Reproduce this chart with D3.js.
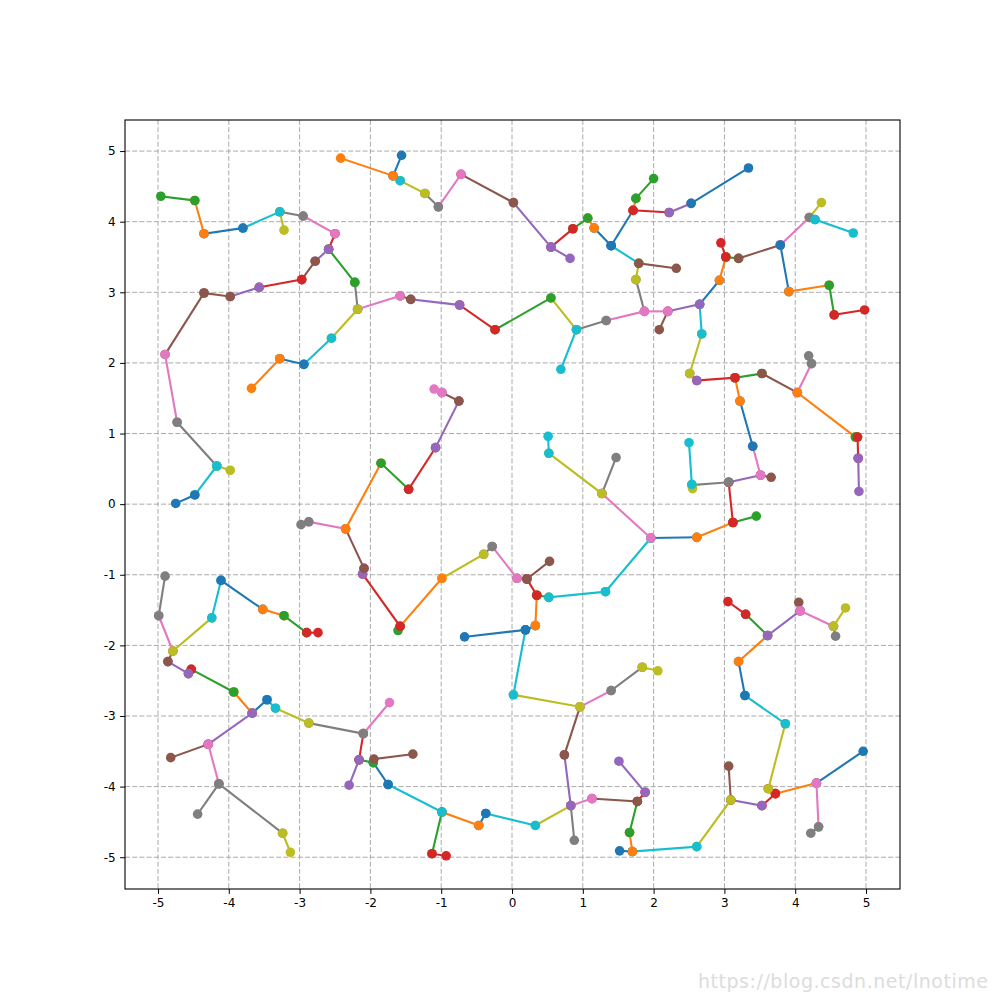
<!DOCTYPE html>
<html><head><meta charset="utf-8">
<script src="https://cdn.jsdelivr.net/npm/d3@7"></script>
<style>body{margin:0;background:#fff}svg{display:block}</style>
</head><body>
<script>
// series (matplotlib tab10 cycle)
const seriesNames = ["C0","C1","C2","C3","C4","C5","C6","C7","C8","C9"];
const seriesColors = ["#1f77b4","#ff7f0e","#2ca02c","#d62728","#9467bd","#8c564b","#e377c2","#7f7f7f","#bcbd22","#17becf"];
const xTicks = [-5,-4,-3,-2,-1,0,1,2,3,4,5];
const yTicks = [-5,-4,-3,-2,-1,0,1,2,3,4,5];
// edges in drawing order: [x1, y1, x2, y2, series]
const segments = [
[1.40,3.66,1.79,3.41,9],[1.16,3.91,1.40,3.66,0],[1.07,4.05,1.16,3.91,1],[0.86,3.90,1.07,4.05,2],
[0.55,3.64,0.86,3.90,3],[0.55,3.64,0.82,3.48,4],[0.02,4.27,0.55,3.64,4],[-0.72,4.67,0.02,4.27,5],
[-1.04,4.21,-0.72,4.67,6],[-1.23,4.40,-1.04,4.21,7],[-1.58,4.58,-1.23,4.40,8],[-1.68,4.65,-1.58,4.58,9],
[-1.68,4.65,-1.56,4.94,0],[-2.42,4.90,-1.68,4.65,1],[1.40,3.66,1.71,4.16,0],[1.71,4.16,1.75,4.33,1],
[1.75,4.33,2.00,4.61,2],[1.71,4.16,2.22,4.13,3],[2.22,4.13,2.53,4.26,4],[2.53,4.26,3.34,4.76,0],
[1.75,3.18,1.87,2.73,7],[1.79,3.41,1.75,3.18,8],[1.79,3.41,2.32,3.34,5],[1.33,2.60,1.87,2.73,6],
[0.91,2.47,1.33,2.60,7],[0.55,2.92,0.91,2.47,8],[0.91,2.47,0.69,1.91,9],[-0.24,2.47,0.55,2.92,2],
[-0.74,2.82,-0.24,2.47,3],[-1.43,2.90,-0.74,2.82,4],[-1.58,2.95,-1.43,2.90,5],[-2.18,2.76,-1.58,2.95,6],
[-2.22,3.14,-2.18,2.76,7],[-2.18,2.76,-2.55,2.35,8],[-2.55,2.35,-2.94,1.98,9],[-2.94,1.98,-3.28,2.06,0],
[-3.28,2.06,-3.68,1.64,1],[-2.22,3.14,-2.59,3.61,2],[-2.50,3.83,-2.59,3.61,3],[-2.59,3.61,-2.78,3.44,4],
[-2.95,4.08,-2.50,3.83,6],[-3.28,4.14,-2.95,4.08,7],[-3.28,4.14,-3.22,3.88,8],[-3.80,3.91,-3.28,4.14,9],
[-4.35,3.83,-3.80,3.91,0],[-4.48,4.30,-4.35,3.83,1],[-4.96,4.36,-4.48,4.30,2],[-2.78,3.44,-2.97,3.18,5],
[-2.97,3.18,-3.57,3.07,3],[-3.57,3.07,-3.98,2.94,4],[-3.98,2.94,-4.35,2.99,5],[-4.35,2.99,-4.90,2.12,5],
[-4.90,2.12,-4.73,1.16,6],[-4.73,1.16,-4.17,0.54,7],[-4.17,0.54,-3.98,0.48,8],[-4.17,0.54,-4.48,0.13,9],
[-4.48,0.13,-4.75,0.01,0],[2.65,2.83,2.93,3.17,0],[2.93,3.17,3.02,3.50,1],[3.02,3.50,3.20,3.48,2],
[3.02,3.50,2.95,3.70,3],[3.20,3.48,3.79,3.67,5],[3.79,3.67,4.20,4.06,6],[4.20,4.06,4.37,4.27,8],
[4.20,4.06,4.28,4.03,7],[4.28,4.03,4.82,3.84,9],[3.79,3.67,3.91,3.01,0],[3.91,3.01,4.48,3.10,1],
[4.48,3.10,4.55,2.68,2],[4.55,2.68,4.98,2.75,3],[3.51,0.41,3.66,0.38,5],[3.06,0.31,3.51,0.41,4],
[3.51,0.41,3.40,0.82,6],[3.40,0.82,3.22,1.46,0],[3.22,1.46,3.15,1.79,1],[3.15,1.79,3.53,1.85,2],
[3.15,1.79,2.61,1.75,3],[2.61,1.75,2.51,1.85,4],[2.51,1.85,2.68,2.41,8],[2.68,2.41,2.65,2.83,9],
[2.65,2.83,2.20,2.73,4],[2.20,2.73,2.08,2.47,5],[1.87,2.73,2.20,2.73,6],[3.53,1.85,4.03,1.58,5],
[4.03,1.58,4.23,1.99,6],[4.23,1.99,4.19,2.10,7],[4.03,1.58,4.85,0.95,1],[4.85,0.95,4.88,0.95,2],
[4.88,0.95,4.89,0.65,3],[4.89,0.65,4.90,0.18,4],[1.96,-0.48,2.61,-0.47,0],[2.61,-0.47,3.12,-0.26,1],
[3.12,-0.26,3.45,-0.17,2],[3.12,-0.26,3.06,0.31,3],[3.06,0.31,2.54,0.27,7],[2.54,0.27,2.55,0.22,8],
[2.54,0.28,2.50,0.87,9],[1.32,-1.24,1.96,-0.48,9],[1.96,-0.48,1.27,0.15,6],[1.47,0.66,1.27,0.15,7],
[1.27,0.15,0.52,0.72,8],[0.52,0.72,0.51,0.96,9],[3.62,-4.03,3.72,-4.10,3],[3.72,-4.10,4.30,-3.95,1],
[4.30,-3.95,4.96,-3.50,0],[4.30,-3.95,4.33,-4.57,6],[4.33,-4.57,4.22,-4.66,7],[3.72,-4.10,3.53,-4.27,3],
[3.53,-4.27,3.09,-4.19,4],[3.09,-4.19,3.06,-3.71,5],[3.09,-4.19,2.61,-4.85,8],[2.61,-4.85,1.70,-4.92,9],
[1.52,-4.91,1.70,-4.92,0],[1.70,-4.92,1.66,-4.65,1],[1.66,-4.65,1.77,-4.21,2],[1.77,-4.21,1.88,-4.08,3],
[1.88,-4.08,1.51,-3.64,4],[1.77,-4.21,1.13,-4.17,5],[1.13,-4.17,0.83,-4.27,6],[0.83,-4.27,0.88,-4.76,7],
[0.83,-4.27,0.33,-4.55,8],[0.83,-4.27,0.74,-3.55,4],[0.74,-3.55,0.96,-2.87,5],[0.96,-2.87,1.40,-2.64,6],
[1.40,-2.64,1.84,-2.31,7],[1.84,-2.31,2.06,-2.36,8],[0.96,-2.87,0.02,-2.70,8],[0.02,-2.70,0.19,-1.78,9],
[0.19,-1.78,-0.67,-1.88,0],[0.19,-1.78,0.33,-1.72,0],[0.33,-1.72,0.35,-1.29,1],[0.35,-1.29,0.52,-1.32,2],
[0.52,-1.32,1.32,-1.24,9],[0.35,-1.29,0.21,-1.06,3],[0.21,-1.06,0.53,-0.81,5],[0.21,-1.06,0.07,-1.05,5],
[0.07,-1.05,-0.28,-0.60,6],[-0.28,-0.60,-0.40,-0.71,7],[-0.40,-0.71,-0.99,-1.05,8],[-0.99,-1.05,-1.58,-1.73,1],
[-1.61,-1.79,-1.58,-1.73,2],[-1.58,-1.73,-2.11,-0.99,3],[-2.11,-0.99,-2.09,-0.91,4],[-2.09,-0.91,-2.35,-0.35,5],
[-2.87,-0.25,-2.35,-0.35,6],[-2.98,-0.29,-2.87,-0.25,7],[-2.35,-0.35,-1.85,0.58,1],[-1.85,0.58,-1.46,0.21,2],
[-1.46,0.21,-1.08,0.80,3],[-1.08,0.80,-0.75,1.46,4],[-0.75,1.46,-0.99,1.58,5],[-0.99,1.58,-1.10,1.63,6],
[3.62,-4.03,3.86,-3.11,8],[3.86,-3.11,3.29,-2.71,9],[3.29,-2.71,3.20,-2.23,0],[3.20,-2.23,3.61,-1.86,1],
[3.61,-1.86,3.30,-1.56,2],[3.30,-1.56,3.05,-1.38,3],[3.61,-1.86,4.07,-1.51,4],[4.07,-1.51,4.05,-1.39,5],
[4.07,-1.51,4.54,-1.73,6],[4.54,-1.73,4.57,-1.87,7],[4.54,-1.73,4.71,-1.47,8],[0.33,-4.55,-0.37,-4.38,9],
[-0.37,-4.38,-0.47,-4.55,0],[-0.47,-4.55,-0.99,-4.36,1],[-0.99,-4.36,-1.13,-4.95,2],[-1.13,-4.95,-0.93,-4.98,3],
[-0.99,-4.36,-1.75,-3.97,9],[-1.75,-3.97,-1.96,-3.66,0],[-1.96,-3.66,-2.16,-3.62,2],[-1.95,-3.61,-1.40,-3.54,5],
[-2.10,-3.25,-2.16,-3.62,3],[-2.10,-3.25,-1.73,-2.81,6],[-2.16,-3.62,-2.30,-3.98,4],[-2.87,-3.10,-2.10,-3.25,7],
[-3.34,-2.89,-2.87,-3.10,8],[-3.46,-2.77,-3.34,-2.89,9],[-3.67,-2.96,-3.46,-2.77,0],[-3.93,-2.66,-3.67,-2.96,1],
[-3.67,-2.96,-4.29,-3.40,4],[-4.82,-3.59,-4.29,-3.40,5],[-4.29,-3.40,-4.14,-3.96,6],[-4.14,-3.96,-4.44,-4.39,7],
[-4.14,-3.96,-3.24,-4.66,7],[-3.24,-4.66,-3.13,-4.93,8],[-4.53,-2.34,-3.93,-2.66,2],[-4.57,-2.40,-4.53,-2.34,3],
[-4.86,-2.23,-4.57,-2.40,4],[-4.79,-2.08,-4.86,-2.23,5],[-4.99,-1.58,-4.79,-2.08,6],[-4.90,-1.02,-4.99,-1.58,7],
[-4.79,-2.08,-4.24,-1.61,8],[-4.24,-1.61,-4.11,-1.08,9],[-4.11,-1.08,-3.52,-1.49,0],[-3.52,-1.49,-3.22,-1.58,1],
[-3.22,-1.58,-2.90,-1.82,2],[-2.90,-1.82,-2.74,-1.82,3]
];
const watermark = "https://blog.csdn.net/lnotime";

const W = 1000, H = 1000;
const plot = {left:125, right:900, top:120, bottom:889};
const svg = d3.select("body").append("svg").attr("width",W).attr("height",H);
const x = d3.scaleLinear().domain([-5.466,5.48]).range([plot.left,plot.right]);
const y = d3.scaleLinear().domain([-5.45,5.44]).range([plot.bottom,plot.top]);
const font = "'DejaVu Sans', sans-serif";

// grid
const grid = svg.append("g");
grid.selectAll("line.gx").data(xTicks).join("line")
  .attr("x1",d=>x(d)).attr("x2",d=>x(d)).attr("y1",plot.top).attr("y2",plot.bottom)
  .attr("stroke","#aaaaaa").attr("stroke-width",1).attr("stroke-dasharray","5,2.2");
grid.selectAll("line.gy").data(yTicks).join("line")
  .attr("y1",d=>y(d)).attr("y2",d=>y(d)).attr("x1",plot.left).attr("x2",plot.right)
  .attr("stroke","#aaaaaa").attr("stroke-width",1).attr("stroke-dasharray","5,2.2");

// segments
const marks = svg.append("g");
segments.forEach(s => {
  const col = seriesColors[s[4]];
  const g = marks.append("g");
  g.append("line").attr("x1",x(s[0])).attr("y1",y(s[1])).attr("x2",x(s[2])).attr("y2",y(s[3]))
    .attr("stroke",col).attr("stroke-width",2.1).attr("stroke-linecap","square");
  g.selectAll("circle").data([[s[0],s[1]],[s[2],s[3]]]).join("circle")
    .attr("cx",d=>x(d[0])).attr("cy",d=>y(d[1])).attr("r",4.8).attr("fill",col);
});

// axes
const xAxis = d3.axisBottom(x).tickValues(xTicks).tickSize(4.9).tickPadding(4.5).tickFormat(d=>String(d));
const yAxis = d3.axisLeft(y).tickValues(yTicks).tickSize(4.9).tickPadding(4.5).tickFormat(d=>String(d));
const gx = svg.append("g").attr("transform",`translate(0,${plot.bottom})`).call(xAxis);
const gy = svg.append("g").attr("transform",`translate(${plot.left},0)`).call(yAxis);
[gx,gy].forEach(g=>{
  g.select(".domain").remove();
  g.selectAll("line").attr("stroke","#000").attr("stroke-width",1);
  g.selectAll("text").attr("font-family",font).attr("font-size",12).attr("fill","#000");
});
svg.append("rect").attr("x",plot.left).attr("y",plot.top)
  .attr("width",plot.right-plot.left).attr("height",plot.bottom-plot.top)
  .attr("fill","none").attr("stroke","#000").attr("stroke-width",1.1);

svg.append("text").attr("x",698).attr("y",988)
  .attr("textLength",290).attr("lengthAdjust","spacing")
  .attr("font-family",font).attr("font-size",19).attr("fill","#dcdcdc").text(watermark);
</script>
</body></html>
